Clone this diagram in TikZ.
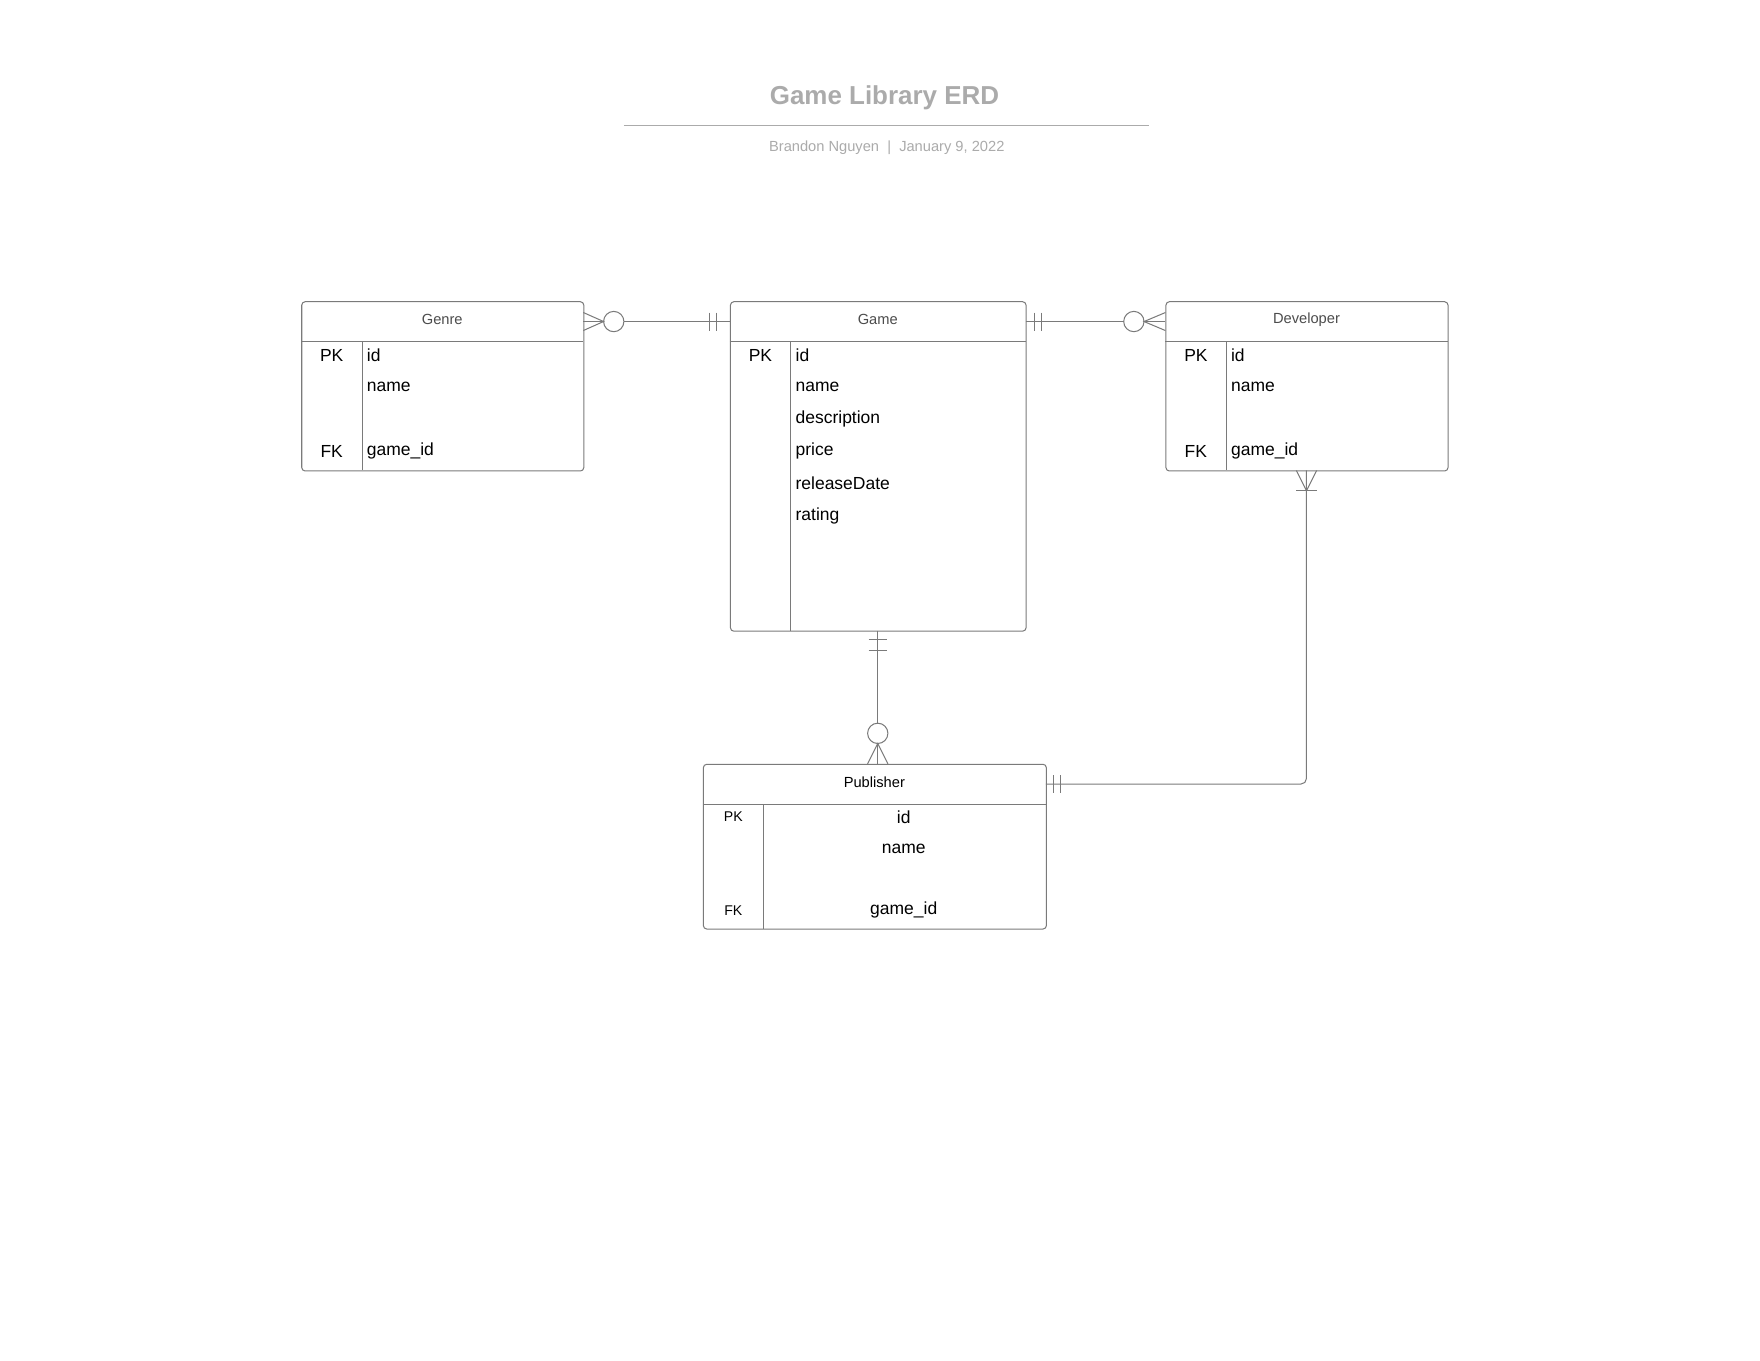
\documentclass[tikz,border=0pt]{standalone}
\usepackage{fontspec}
\setmainfont{Liberation Sans}
\usetikzlibrary{calc}
\definecolor{ln}{HTML}{7A7A7A}
\definecolor{tt}{HTML}{ABABAB}
\begin{document}
\begin{tikzpicture}[x=1pt,y=-1pt,
  ent/.style={draw=ln,line width=0.9pt,rounded corners=3pt,inner sep=0,anchor=north west},
  hdr/.style={font=\fontsize{13}{15}\selectfont,text=black!70},
  att/.style={font=\fontsize{15.5}{18}\selectfont,anchor=west,inner sep=0},
  key/.style={font=\fontsize{15.5}{18}\selectfont,inner sep=0},
  conn/.style={draw=ln,line width=0.9pt}]
\fill[white] (0,0) rectangle (1560,1206);
\useasboundingbox (0,0) rectangle (1560,1206);
% title
\node[font=\bfseries\fontsize{23}{26}\selectfont,text=tt] (title) at (784,87) {Game Library ERD};
\draw[tt,line width=1.2pt] (553,111) -- (1018,111);
\node[font=\fontsize{13}{15}\selectfont,text=tt] (sub) at (786,131) {Brandon Nguyen~~|~~January 9, 2022};
% Genre
\node[ent,minimum width=250pt,minimum height=150pt] (genre) at (267,267) {};
\draw[ln,line width=0.9pt] (267,303) -- (517,303) (321,303) -- (321,417);
\node[hdr] (gh) at (392,283) {Genre};
\node[key] (g1) at (294,315) {PK}; \node[att] (g2) at (325,315) {id};
\node[att] (g3) at (325,343) {name};
\node[key] (g4) at (294,400) {FK}; \node[att] (g5) at (325,400) {game\_id};
% Game
\node[ent,minimum width=262pt,minimum height=292pt] (game) at (647,267) {};
\draw[ln,line width=0.9pt] (647,303) -- (909,303) (701,303) -- (701,559);
\node[hdr] (gah) at (778,283) {Game};
\node[key] (a1) at (674,315) {PK};
\node[att] (a2) at (705,315) {id};
\node[att] (a3) at (705,343) {name};
\node[att] (a4) at (705,371) {description};
\node[att] (a5) at (705,400) {price};
\node[att] (a6) at (705,428) {releaseDate};
\node[att] (a7) at (705,457) {rating};
% Developer
\node[ent,minimum width=250pt,minimum height=150pt] (dev) at (1033,267) {};
\draw[ln,line width=0.9pt] (1033,303) -- (1283,303) (1087,303) -- (1087,417);
\node[hdr] (dh) at (1158,283) {Developer};
\node[key] (d1) at (1060,315) {PK}; \node[att] (d2) at (1091,315) {id};
\node[att] (d3) at (1091,343) {name};
\node[key] (d4) at (1060,400) {FK}; \node[att] (d5) at (1091,400) {game\_id};
% Publisher
\node[ent,minimum width=304pt,minimum height=146pt] (pub) at (623,677) {};
\draw[ln,line width=0.9pt] (623,713) -- (927,713) (677,713) -- (677,823);
\node[font=\fontsize{13}{15}\selectfont] (ph) at (775,693) {Publisher};
\node[font=\fontsize{12.5}{15}\selectfont] (p1) at (650,724) {PK};
\node[key] (p2) at (801,724) {id};
\node[key] (p3) at (801,752) {name};
\node[font=\fontsize{12.5}{15}\selectfont] (p4) at (650,807) {FK};
\node[key] (p5) at (801,807) {game\_id};
% Genre - Game
\coordinate (gr) at (517,285); \coordinate (gl) at (647,285);
\draw[conn] (gr) ++(0,-8) -- (535,285) -- (517,293);
\draw[conn] (gr) -- (535,285);
\draw[conn] (544,285) circle (9);
\draw[conn] (553,285) -- (gl);
\draw[conn] (629,277) -- (629,293) (635,277) -- (635,293);
% Game - Developer
\coordinate (ar) at (909,285); \coordinate (dl) at (1033,285);
\draw[conn] (ar) -- (996,285);
\draw[conn] (917,277) -- (917,293) (923,277) -- (923,293);
\draw[conn] (1005,285) circle (9);
\draw[conn] (dl) ++(0,-8) -- (1014,285) -- (1033,293);
\draw[conn] (1014,285) -- (dl);
% Game - Publisher
\coordinate (ab) at (778,559); \coordinate (pt) at (778,677);
\draw[conn] (ab) -- (778,641);
\draw[conn] (770,567) -- (786,567) (770,577) -- (786,577);
\draw[conn] (778,650) circle (9);
\draw[conn] (769,677) -- (778,659) -- (787,677);
\draw[conn] (778,659) -- (pt);
% Publisher - Developer
\coordinate (pr) at (927,695); \coordinate (db) at (1158,417);
\draw[conn,rounded corners=5pt] (pr) -- (1158,695) -- (db);
\draw[conn] (934,687) -- (934,703) (940,687) -- (940,703);
\draw[conn] (1149,417) -- (1158,435) -- (1167,417);
\draw[conn] (1149,435) -- (1167,435);
\end{tikzpicture}
\end{document}
